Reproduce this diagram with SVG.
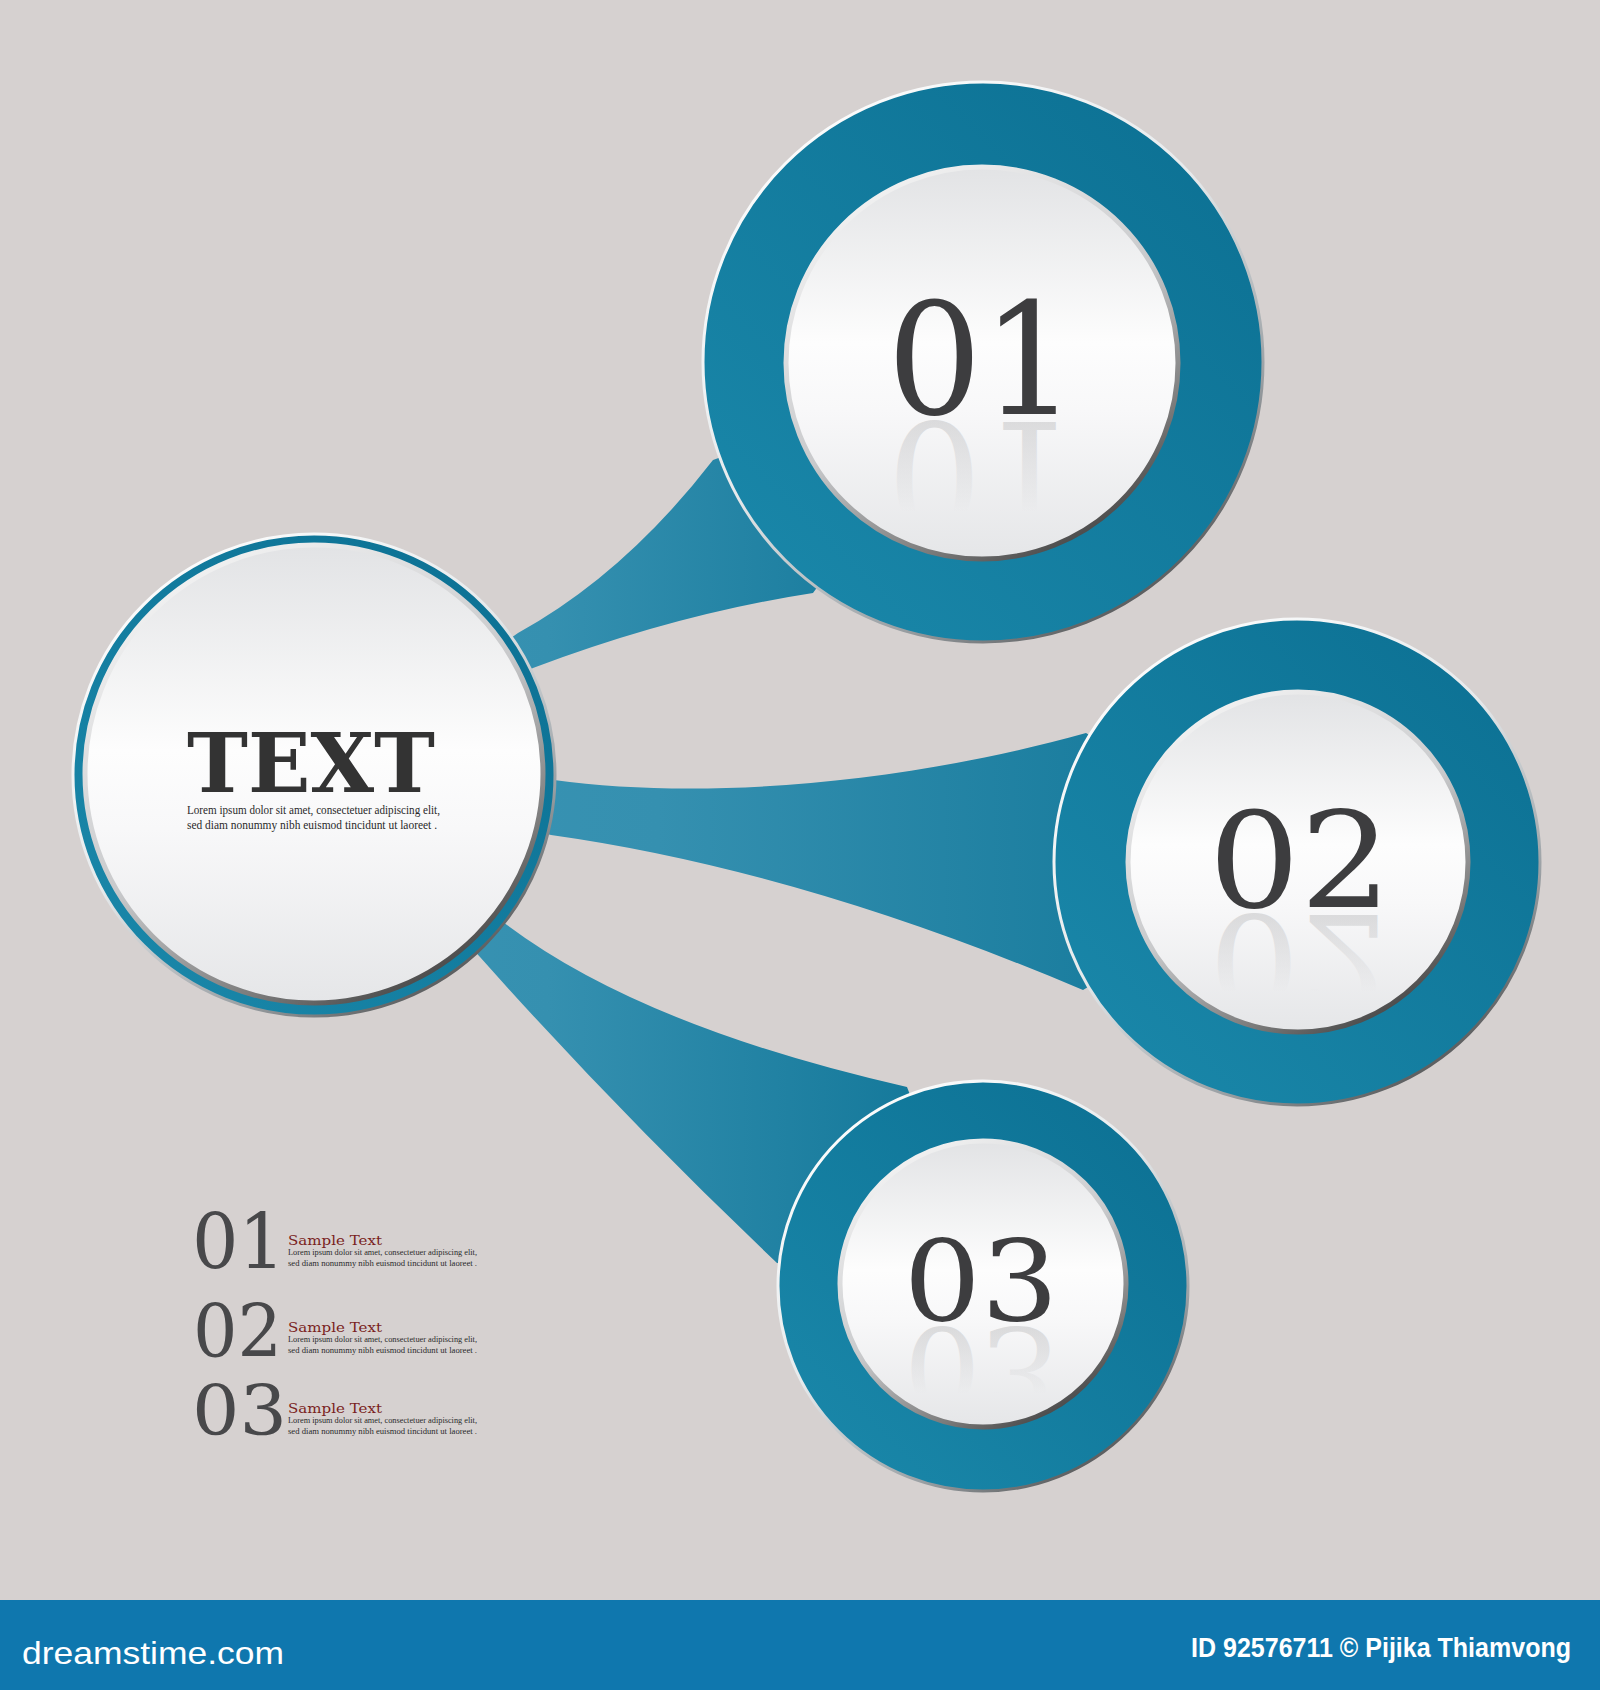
<svg xmlns="http://www.w3.org/2000/svg" width="1600" height="1690" viewBox="0 0 1600 1690">
<style>
.ring{fill:url(#ringG);stroke:url(#edgeG);stroke-width:3}
.disc{fill:url(#discG);stroke:url(#rimG);stroke-width:5}
.num{font-family:"DejaVu Serif","Liberation Serif",serif;fill:#3d3d3f;text-anchor:middle}
.refl{fill:url(#reflG)}
.conn{fill:url(#connG)}
.lorem{font-family:"Liberation Serif","Times New Roman",serif;fill:#2a2a2a}
.sample{font-family:"DejaVu Serif","Liberation Serif",serif;fill:#7a1f22}
.leg{font-family:"DejaVu Serif","Liberation Serif",serif;fill:#48484a}
.ban{font-family:"Liberation Sans",Arial,sans-serif;fill:#ffffff}
</style>
<defs>
<linearGradient id="ringG" x1="0" y1="1" x2="1" y2="0">
<stop offset="0" stop-color="#1b89ab"/>
<stop offset="1" stop-color="#0b6f92"/>
</linearGradient>
<linearGradient id="edgeG" x1="0.15" y1="0" x2="0.85" y2="1">
<stop offset="0" stop-color="#ffffff"/>
<stop offset="0.45" stop-color="#e6eaec"/>
<stop offset="0.75" stop-color="#9aa0a4"/>
<stop offset="1" stop-color="#3c3c3c"/>
</linearGradient>
<linearGradient id="discG" x1="0" y1="0" x2="0" y2="1">
<stop offset="0" stop-color="#e2e3e5"/>
<stop offset="0.45" stop-color="#fdfdfd"/>
<stop offset="0.62" stop-color="#f8f8f9"/>
<stop offset="1" stop-color="#e5e6e8"/>
</linearGradient>
<linearGradient id="rimG" x1="0.2" y1="0" x2="0.8" y2="1">
<stop offset="0" stop-color="#f6f6f6"/>
<stop offset="0.5" stop-color="#c8c9cb"/>
<stop offset="0.8" stop-color="#7a7a7a"/>
<stop offset="1" stop-color="#383838"/>
</linearGradient>
<linearGradient id="reflG" x1="0" y1="0" x2="0" y2="1">
<stop offset="0.3" stop-color="#9a9a9c" stop-opacity="0"/>
<stop offset="0.8" stop-color="#9a9a9c" stop-opacity="0.3"/>
</linearGradient>
<linearGradient id="connG" x1="0" y1="0" x2="1" y2="0">
<stop offset="0" stop-color="#3a94b4"/>
<stop offset="0.35" stop-color="#3590b0"/>
<stop offset="1" stop-color="#0f7597"/>
</linearGradient>
</defs>

<rect width="1600" height="1690" fill="#d6d1d0"/>

<g id="connectors">
<path class="conn" d="M314,775 L518,633 Q625,574 713,460 L983,362 L813,593 Q676,614 533,668 Z"/>
<path class="conn" d="M314,775 L554,780 C700,800 900,785 1086,733 L1297,862 L1083,990 Q800,870 551,835 Z"/>
<path class="conn" d="M314,775 L507,925 Q643,1027 907,1087 L983,1285 L777,1263 Q618,1112 480,957 Z"/>
</g>

<g id="node-main">
<circle class="ring" cx="314" cy="775" r="241"/>
<circle class="disc" cx="314" cy="774" r="229"/>
<text x="311" y="792" font-family="'DejaVu Serif','Liberation Serif',serif" font-weight="bold" font-size="82" fill="#333333" text-anchor="middle" textLength="248" lengthAdjust="spacingAndGlyphs">TEXT</text>
<text class="lorem" x="187" y="814" font-size="12" textLength="253" lengthAdjust="spacingAndGlyphs">Lorem ipsum dolor sit amet, consectetuer adipiscing elit,</text>
<text class="lorem" x="187" y="829" font-size="12" textLength="250" lengthAdjust="spacingAndGlyphs">sed diam nonummy nibh euismod tincidunt ut laoreet .</text>
</g>

<g id="node-01">
<circle class="ring" cx="983" cy="362" r="280"/>
<circle class="disc" cx="982" cy="363" r="196"/>
<text class="num refl" x="982" y="414" font-size="155" textLength="190" lengthAdjust="spacingAndGlyphs" transform="translate(0,836) scale(1,-1)">01</text>
<text class="num" x="982" y="414" font-size="155" textLength="190" lengthAdjust="spacingAndGlyphs">01</text>
</g>

<g id="node-02">
<circle class="ring" cx="1297" cy="862" r="243"/>
<circle class="disc" cx="1298" cy="862" r="170"/>
<text class="num refl" x="1300" y="907" font-size="133" textLength="183" lengthAdjust="spacingAndGlyphs" transform="translate(0,1822) scale(1,-1)">02</text>
<text class="num" x="1300" y="907" font-size="133" textLength="183" lengthAdjust="spacingAndGlyphs">02</text>
</g>

<g id="node-03">
<circle class="ring" cx="983" cy="1286" r="205"/>
<circle class="disc" cx="983" cy="1284" r="143"/>
<text class="num refl" x="981" y="1320" font-size="112" textLength="155" lengthAdjust="spacingAndGlyphs" transform="translate(0,2648) scale(1,-1)">03</text>
<text class="num" x="981" y="1320" font-size="112" textLength="155" lengthAdjust="spacingAndGlyphs">03</text>
</g>

<g id="legend">
<text class="leg" x="192" y="1268" font-size="77" textLength="93" lengthAdjust="spacingAndGlyphs">01</text>
<text class="sample" x="288" y="1245" font-size="13" textLength="94" lengthAdjust="spacingAndGlyphs">Sample Text</text>
<text class="lorem" x="288" y="1255" font-size="9" textLength="189" lengthAdjust="spacingAndGlyphs">Lorem ipsum dolor sit amet, consectetuer adipiscing elit,</text>
<text class="lorem" x="288" y="1266" font-size="9" textLength="189" lengthAdjust="spacingAndGlyphs">sed diam nonummy nibh euismod tincidunt ut laoreet .</text>

<text class="leg" x="193" y="1357" font-size="72" textLength="89" lengthAdjust="spacingAndGlyphs">02</text>
<text class="sample" x="288" y="1332" font-size="13" textLength="94" lengthAdjust="spacingAndGlyphs">Sample Text</text>
<text class="lorem" x="288" y="1342" font-size="9" textLength="189" lengthAdjust="spacingAndGlyphs">Lorem ipsum dolor sit amet, consectetuer adipiscing elit,</text>
<text class="lorem" x="288" y="1353" font-size="9" textLength="189" lengthAdjust="spacingAndGlyphs">sed diam nonummy nibh euismod tincidunt ut laoreet .</text>

<text class="leg" x="192" y="1435" font-size="69" textLength="95" lengthAdjust="spacingAndGlyphs">03</text>
<text class="sample" x="288" y="1413" font-size="13" textLength="94" lengthAdjust="spacingAndGlyphs">Sample Text</text>
<text class="lorem" x="288" y="1423" font-size="9" textLength="189" lengthAdjust="spacingAndGlyphs">Lorem ipsum dolor sit amet, consectetuer adipiscing elit,</text>
<text class="lorem" x="288" y="1434" font-size="9" textLength="189" lengthAdjust="spacingAndGlyphs">sed diam nonummy nibh euismod tincidunt ut laoreet .</text>
</g>

<g id="banner">
<rect x="0" y="1600" width="1600" height="90" fill="#0f77ae"/>
<text class="ban" x="22" y="1664" font-family="'DejaVu Sans',sans-serif" font-size="32" textLength="262" lengthAdjust="spacingAndGlyphs">dreamstime.com</text>
<text class="ban" x="1191" y="1657" font-size="27" font-weight="bold" textLength="380" lengthAdjust="spacingAndGlyphs">ID 92576711 © Pijika Thiamvong</text>
</g>
</svg>
